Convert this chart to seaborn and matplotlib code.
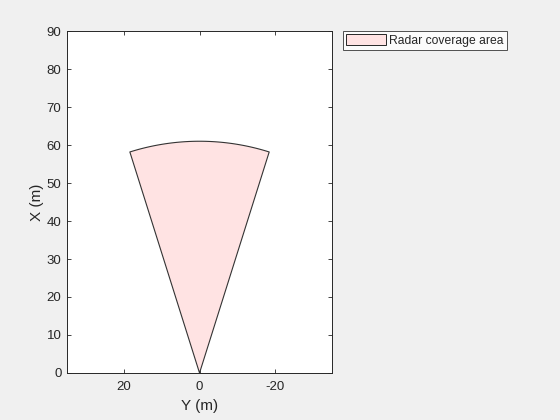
import numpy as np
import pandas as pd
import matplotlib
matplotlib.use("Agg")
import matplotlib.pyplot as plt
import seaborn as sns
from matplotlib.patches import Patch

# Sensor coverage parameters
radar_range = 61.0          # m
radar_fov = 35.0            # degrees (total field of view)
sensor_position = [0.0, 0.0]  # (X, Y) in m
legend_label = "Radar coverage area"
x_ticks = [0, 10, 20, 30, 40, 50, 60, 70, 80, 90]
y_ticks = [20, 0, -20]

sns.set_style("ticks")
plt.rcParams['font.family'] = ['Liberation Sans', 'DejaVu Sans']
plt.rcParams['axes.unicode_minus'] = False

fig = plt.figure(figsize=(5.6, 4.2), dpi=100)
fig.patch.set_facecolor('#f0f0f0')
ax = fig.add_axes([0.1196, 0.112, 0.4734, 0.814])
ax.set_facecolor('white')

ang = np.deg2rad(np.linspace(-radar_fov / 2, radar_fov / 2, 60))
ys = np.concatenate([[sensor_position[1]], sensor_position[1] + radar_range * np.sin(ang), [sensor_position[1]]])
xs = np.concatenate([[sensor_position[0]], sensor_position[0] + radar_range * np.cos(ang), [sensor_position[0]]])
df = pd.DataFrame({"Y": ys, "X": xs})

face = (1.0, 0.89, 0.89)
ax.fill(df["Y"], df["X"], facecolor=face, edgecolor='none', label=legend_label)
sns.lineplot(data=df, x="Y", y="X", sort=False, estimator=None, color='#333333', linewidth=0.8, ax=ax, legend=False)

ax.set_xlim(34.9, -34.9)
ax.set_ylim(0, 90)
ax.set_xticks(y_ticks)
ax.set_yticks(x_ticks)
ax.set_xlabel("Y (m)", fontsize=11, color='#262626', labelpad=4)
ax.set_ylabel("X (m)", fontsize=11, color='#262626', labelpad=2)
ax.tick_params(direction='in', length=3, width=0.6, labelsize=9.5, colors='#262626',
               top=True, right=True, pad=4)
ax.tick_params(axis='x', pad=6)
for s in ax.spines.values():
    s.set_linewidth(0.7)
    s.set_color('#262626')

h = Patch(facecolor=face, edgecolor='#262626', linewidth=0.7, label=legend_label)
leg = fig.legend(handles=[h], loc='upper left', bbox_to_anchor=(0.612, 0.926), fontsize=8.7,
                 frameon=True, fancybox=False, edgecolor='#262626', borderpad=0.25,
                 handlelength=3.3, handleheight=1.0, handletextpad=0.3, borderaxespad=0)
leg.get_frame().set_linewidth(0.7)

fig.savefig("out.png", dpi=100, facecolor=fig.get_facecolor())
